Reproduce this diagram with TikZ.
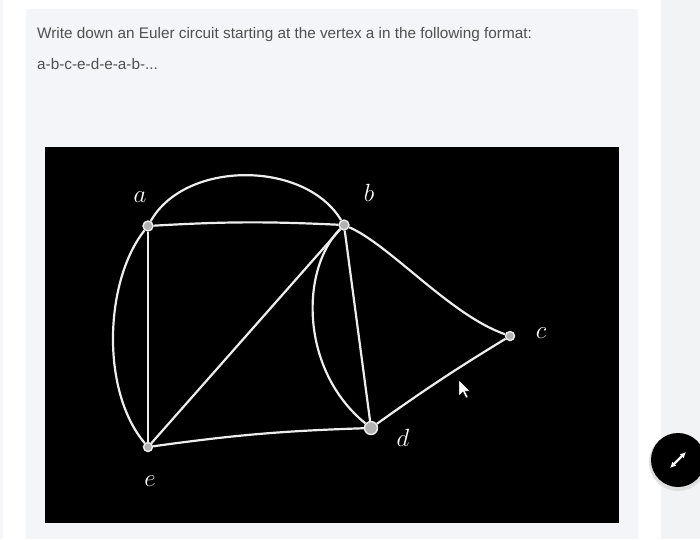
\documentclass[tikz,border=0pt]{standalone}
\usepackage{fontspec}
\setmainfont{Liberation Sans}
\usetikzlibrary{arrows.meta}

\definecolor{panel}{HTML}{F3F5F8}
\definecolor{strip}{HTML}{F1F3F5}
\definecolor{txtgrey}{HTML}{505050}
\definecolor{chalk}{HTML}{EDEDED}

\begin{document}
\begin{tikzpicture}[x=1pt,y=1pt,>={Latex[length=6pt,width=6pt]},
  vertex/.style={circle,draw=chalk,fill=gray!60,line width=1.4pt,inner sep=0pt,minimum size=10pt},
  edge/.style={chalk,line width=2.2pt},
  vlabel/.style={white,font=\fontsize{29}{29}\selectfont,inner sep=0pt},
  question/.style={anchor=base west,txtgrey,font=\fontsize{15.3}{15.3}\selectfont,inner sep=0pt}]

\useasboundingbox (0,0) rectangle (700,-539);
\fill[white] (0,0) rectangle (700,-539);
\fill[panel] (0,0) rectangle (3,-539);
\fill[panel] (26,-9) rectangle (638,-539);
\fill[strip] (661,0) rectangle (700,-539);

% question text
\node[question] (q1) at (37,-38) {Write down an Euler circuit starting at the vertex a in the following format:};
\node[question] (q2) at (37,-69) {a-b-c-e-d-e-a-b-...};

% the board
\fill[black] (45,-147) rectangle (619,-523);

\node[vertex] (a) at (148,-226) {};
\node[vertex] (b) at (344,-225) {};
\node[vertex,minimum size=9pt] (c) at (510,-336) {};
\node[vertex,minimum size=13pt] (d) at (371,-428) {};
\node[vertex,minimum size=9pt] (e) at (148,-447) {};

\node[vlabel] (la) at (140,-197) {$a$};
\node[vlabel] (lb) at (369,-193) {$b$};
\node[vlabel] (lc) at (541,-333) {$c$};
\node[vlabel] (ld) at (403,-438) {$d$};
\node[vlabel] (le) at (150,-481) {$e$};

\draw[edge] (a) to[bend left=3] (b);
\draw[edge] (a) .. controls (185,-160) and (305,-160) .. (b);
\draw[edge] (a) -- (e);
\draw[edge] (a) .. controls (105,-280) and (100,-390) .. (e);
\draw[edge] (e) -- (b);
\draw[edge] (e) to[bend left=3] (d);
\draw[edge] (b) -- (d);
\draw[edge] (b) .. controls (300,-270) and (300,-370) .. (d);
\draw[edge] (b) .. controls (390,-245) and (450,-315) .. (c);
\draw[edge] (d) to[bend left=2] (c);

% mouse pointer
\fill[white,draw=black,line width=0.4pt] (459,-380) -- (459,-396) -- (463,-392) -- (466,-398)
  -- (468,-397) -- (465,-391) -- (470,-391) -- cycle;

% expand button
\fill[gray!25] (678,-462) circle[radius=29];
\fill[black] (678,-460) coordinate (btn) circle[radius=27];
\draw[<->,white,line width=2.2pt] ([shift={(-8,-8)}]btn) -- ([shift={(8,8)}]btn);

\end{tikzpicture}
\end{document}
